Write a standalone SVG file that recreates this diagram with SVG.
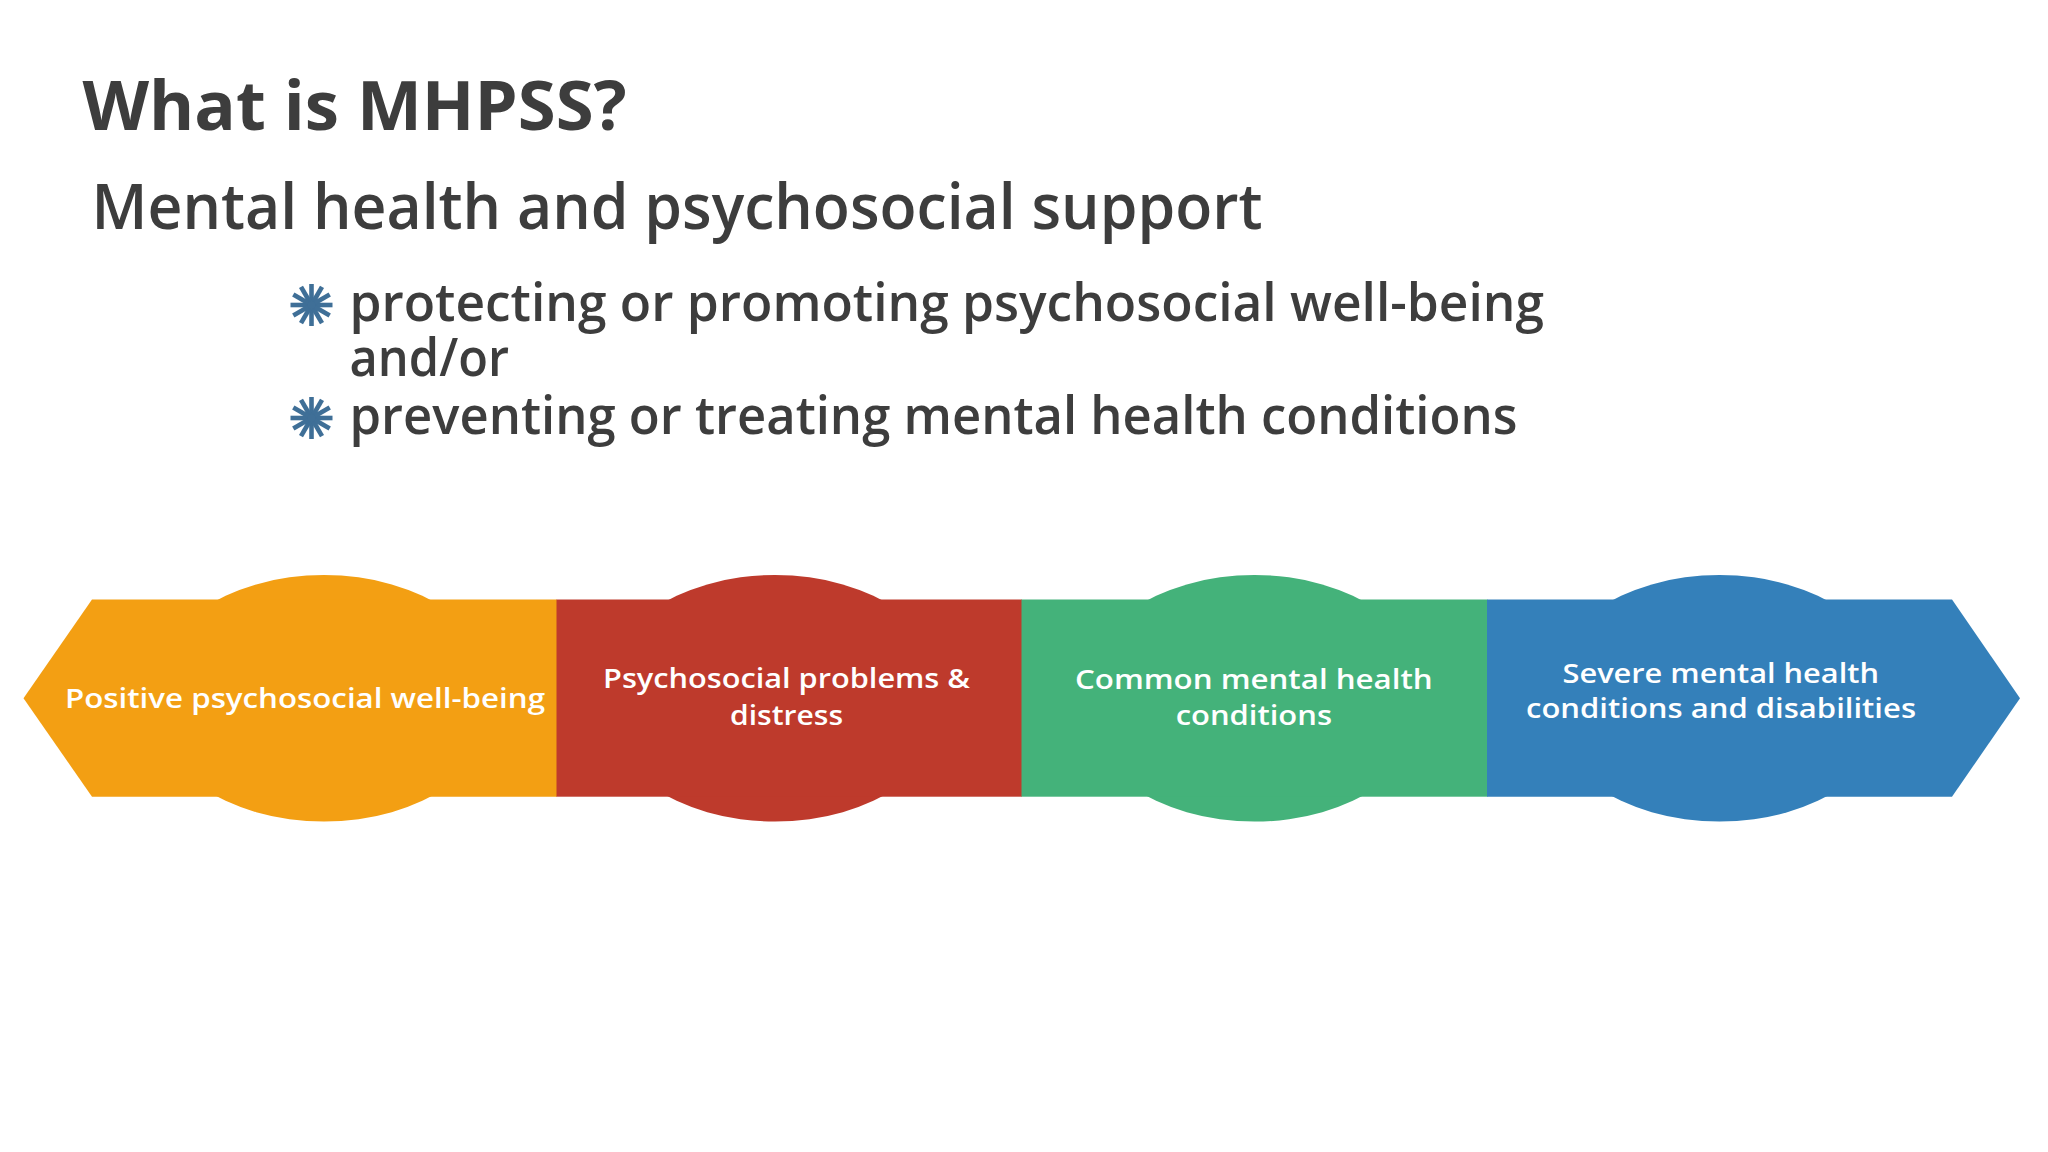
<svg xmlns="http://www.w3.org/2000/svg" xmlns:xlink="http://www.w3.org/1999/xlink" width="2048" height="1152" viewBox="0 0 2048 1152">
  <style>
    .dark { fill: #3d3d3d; font-family: "Open Sans", "Liberation Sans", sans-serif; }
    .title { font-size: 68px; font-weight: 700; }
    .sub { font-size: 63px; font-weight: 600; }
    .bul { font-size: 52px; font-weight: 600; }
    .lbl { fill: #ffffff; font-family: "Open Sans", "Liberation Sans", sans-serif; font-size: 27px; font-weight: 600; }
    .ray { stroke: #3f6f97; stroke-width: 4.6; }
    .orange { fill: #F39F13; }
    .red { fill: #BE3A2C; }
    .green { fill: #44B27A; }
    .blue { fill: #3480BA; }
  </style>
  <defs>
    <g id="star">
      <circle r="7" fill="#3f6f97"/>
      <g class="ray">
        <line x1="0" y1="-4" x2="0" y2="-21"/>
        <line x1="0" y1="4" x2="0" y2="21"/>
        <line x1="-4" y1="0" x2="-21" y2="0"/>
        <line x1="4" y1="0" x2="21" y2="0"/>
        <line x1="2" y1="-3.5" x2="10.5" y2="-18.2"/>
        <line x1="-2" y1="-3.5" x2="-10.5" y2="-18.2"/>
        <line x1="2" y1="3.5" x2="10.5" y2="18.2"/>
        <line x1="-2" y1="3.5" x2="-10.5" y2="18.2"/>
        <line x1="3.5" y1="-2" x2="18.2" y2="-10.5"/>
        <line x1="-3.5" y1="-2" x2="-18.2" y2="-10.5"/>
        <line x1="3.5" y1="2" x2="18.2" y2="10.5"/>
        <line x1="-3.5" y1="2" x2="-18.2" y2="10.5"/>
      </g>
    </g>
  </defs>
  <rect width="2048" height="1152" fill="#ffffff"/>

  <g id="heading">
    <text class="dark title" x="82.5" y="129.5" textLength="544" lengthAdjust="spacingAndGlyphs">What is MHPSS?</text>
    <text class="dark sub" x="91.5" y="228.5" textLength="1171" lengthAdjust="spacingAndGlyphs">Mental health and psychosocial support</text>
  </g>

  <g id="bullets">
    <use xlink:href="#star" href="#star" x="311.5" y="305"/>
    <text class="dark bul" x="349.5" y="321" textLength="1194.5" lengthAdjust="spacingAndGlyphs">protecting or promoting psychosocial well-being</text>
    <text class="dark bul" x="349.5" y="376" textLength="159.5" lengthAdjust="spacingAndGlyphs">and/or</text>
    <use xlink:href="#star" href="#star" x="311.5" y="418"/>
    <text class="dark bul" x="349.5" y="433.5" textLength="1168" lengthAdjust="spacingAndGlyphs">preventing or treating mental health conditions</text>
  </g>

  <g id="node-positive">
    <ellipse class="orange" cx="324" cy="698.3" rx="177" ry="123.3"/>
    <polygon class="orange" points="92,599.5 557,599.5 557,796.7 92,796.7 23.5,698.3"/>
    <text class="lbl" x="65" y="708" textLength="480" lengthAdjust="spacingAndGlyphs">Positive psychosocial well-being</text>
  </g>

  <g id="node-distress">
    <ellipse class="red" cx="775" cy="698.3" rx="177" ry="123.3"/>
    <rect class="red" x="556.5" y="599.5" width="465.5" height="197.2"/>
    <text class="lbl" x="603" y="688" textLength="367" lengthAdjust="spacingAndGlyphs">Psychosocial problems &amp;</text>
    <text class="lbl" x="730" y="725" textLength="113" lengthAdjust="spacingAndGlyphs">distress</text>
  </g>

  <g id="node-common">
    <ellipse class="green" cx="1254.5" cy="698.3" rx="177" ry="123.3"/>
    <rect class="green" x="1021.5" y="599.5" width="466" height="197.2"/>
    <text class="lbl" x="1075" y="689" textLength="357.7" lengthAdjust="spacingAndGlyphs">Common mental health</text>
    <text class="lbl" x="1175.7" y="725" textLength="156.3" lengthAdjust="spacingAndGlyphs">conditions</text>
  </g>

  <g id="node-severe">
    <ellipse class="blue" cx="1719.5" cy="698.3" rx="177" ry="123.3"/>
    <polygon class="blue" points="1487,599.5 1952,599.5 2020,698.3 1952,796.7 1487,796.7"/>
    <text class="lbl" x="1562.5" y="683.3" textLength="316.5" lengthAdjust="spacingAndGlyphs">Severe mental health</text>
    <text class="lbl" x="1526" y="718.3" textLength="390" lengthAdjust="spacingAndGlyphs">conditions and disabilities</text>
  </g>

  <g id="connectors"/>
</svg>
